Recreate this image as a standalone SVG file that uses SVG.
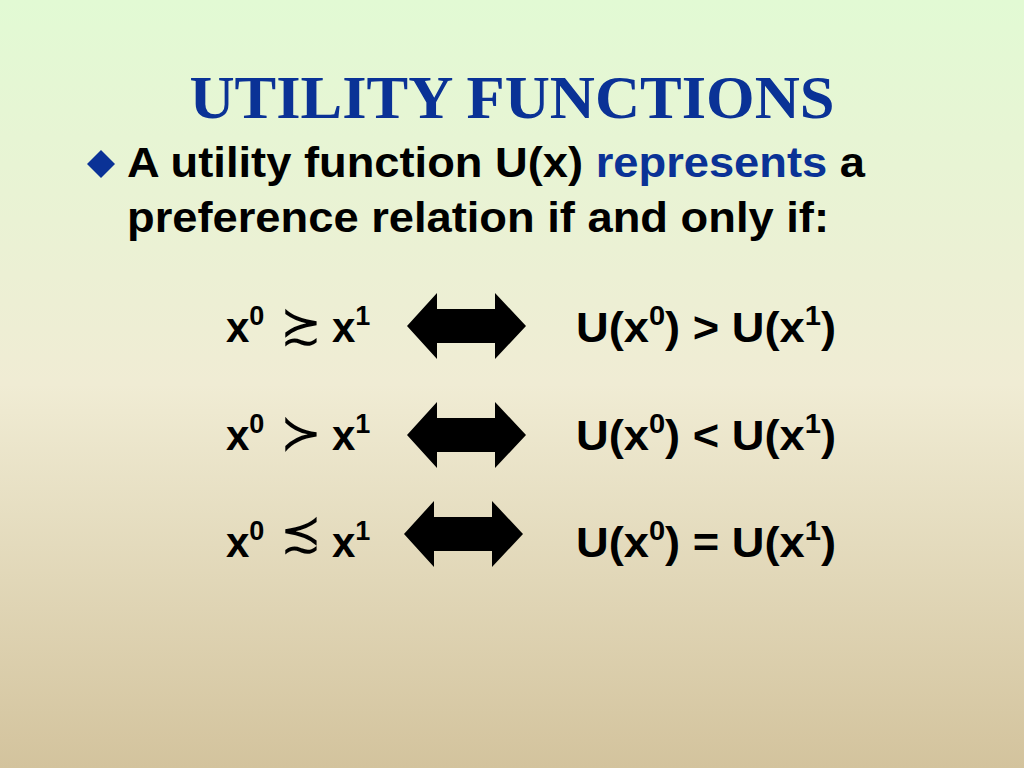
<svg xmlns="http://www.w3.org/2000/svg" width="1024" height="768" viewBox="0 0 1024 768">
<defs>
<linearGradient id="bg" x1="0" y1="0" x2="0" y2="1">
<stop offset="0" stop-color="#e2fad4"/><stop offset="0.5" stop-color="#f0ecd4"/><stop offset="1" stop-color="#d3c39d"/>
</linearGradient>
<path id="arr" d="M0,0 L30,-33 L30,-17 L88,-17 L88,-33 L119,0 L88,33 L88,17 L30,17 L30,33 Z" fill="#000"/>
</defs>
<style>
.t{font-family:"Liberation Sans",Arial,sans-serif;font-weight:bold;font-size:42px;fill:#000}
.s{font-size:27px}
.sym{font-family:"DejaVu Sans",sans-serif;font-size:50px;fill:#000}
</style>
<rect width="1024" height="768" fill="url(#bg)"/>
<text x="512" y="118" text-anchor="middle" font-family="Liberation Serif,serif" font-weight="bold" font-size="62" fill="#0a3296" textLength="645" lengthAdjust="spacingAndGlyphs">UTILITY FUNCTIONS</text>
<polygon points="101,150 115,164 101,178 87,164" fill="#0a3296"/>
<text class="t" x="127" y="177" textLength="738" lengthAdjust="spacingAndGlyphs">A utility function U(x) <tspan fill="#0a3296">represents</tspan> a</text>
<text class="t" x="127" y="232" textLength="702" lengthAdjust="spacingAndGlyphs">preference relation if and only if:</text>
<g id="row1">
<text class="t" x="226" y="342">x<tspan class="s" dy="-17">0</tspan></text>
<text class="sym" x="280" y="342">≿</text>
<text class="t" x="332" y="342">x<tspan class="s" dy="-17">1</tspan></text>
<use href="#arr" x="407" y="326"/>
<text class="t" x="576" y="342" textLength="260" lengthAdjust="spacingAndGlyphs">U(x<tspan class="s" dy="-17">0</tspan><tspan dy="17">) &gt; U(x</tspan><tspan class="s" dy="-17">1</tspan><tspan dy="17">)</tspan></text>
</g>
<g id="row2">
<text class="t" x="226" y="450">x<tspan class="s" dy="-17">0</tspan></text>
<text class="sym" x="280" y="450">≻</text>
<text class="t" x="332" y="450">x<tspan class="s" dy="-17">1</tspan></text>
<use href="#arr" x="407" y="435"/>
<text class="t" x="576" y="450" textLength="260" lengthAdjust="spacingAndGlyphs">U(x<tspan class="s" dy="-17">0</tspan><tspan dy="17">) &lt; U(x</tspan><tspan class="s" dy="-17">1</tspan><tspan dy="17">)</tspan></text>
</g>
<g id="row3">
<text class="t" x="226" y="557">x<tspan class="s" dy="-17">0</tspan></text>
<text class="sym" x="280" y="550">≾</text>
<text class="t" x="332" y="557">x<tspan class="s" dy="-17">1</tspan></text>
<use href="#arr" x="404" y="534"/>
<text class="t" x="576" y="557" textLength="260" lengthAdjust="spacingAndGlyphs">U(x<tspan class="s" dy="-17">0</tspan><tspan dy="17">) = U(x</tspan><tspan class="s" dy="-17">1</tspan><tspan dy="17">)</tspan></text>
</g>
</svg>
